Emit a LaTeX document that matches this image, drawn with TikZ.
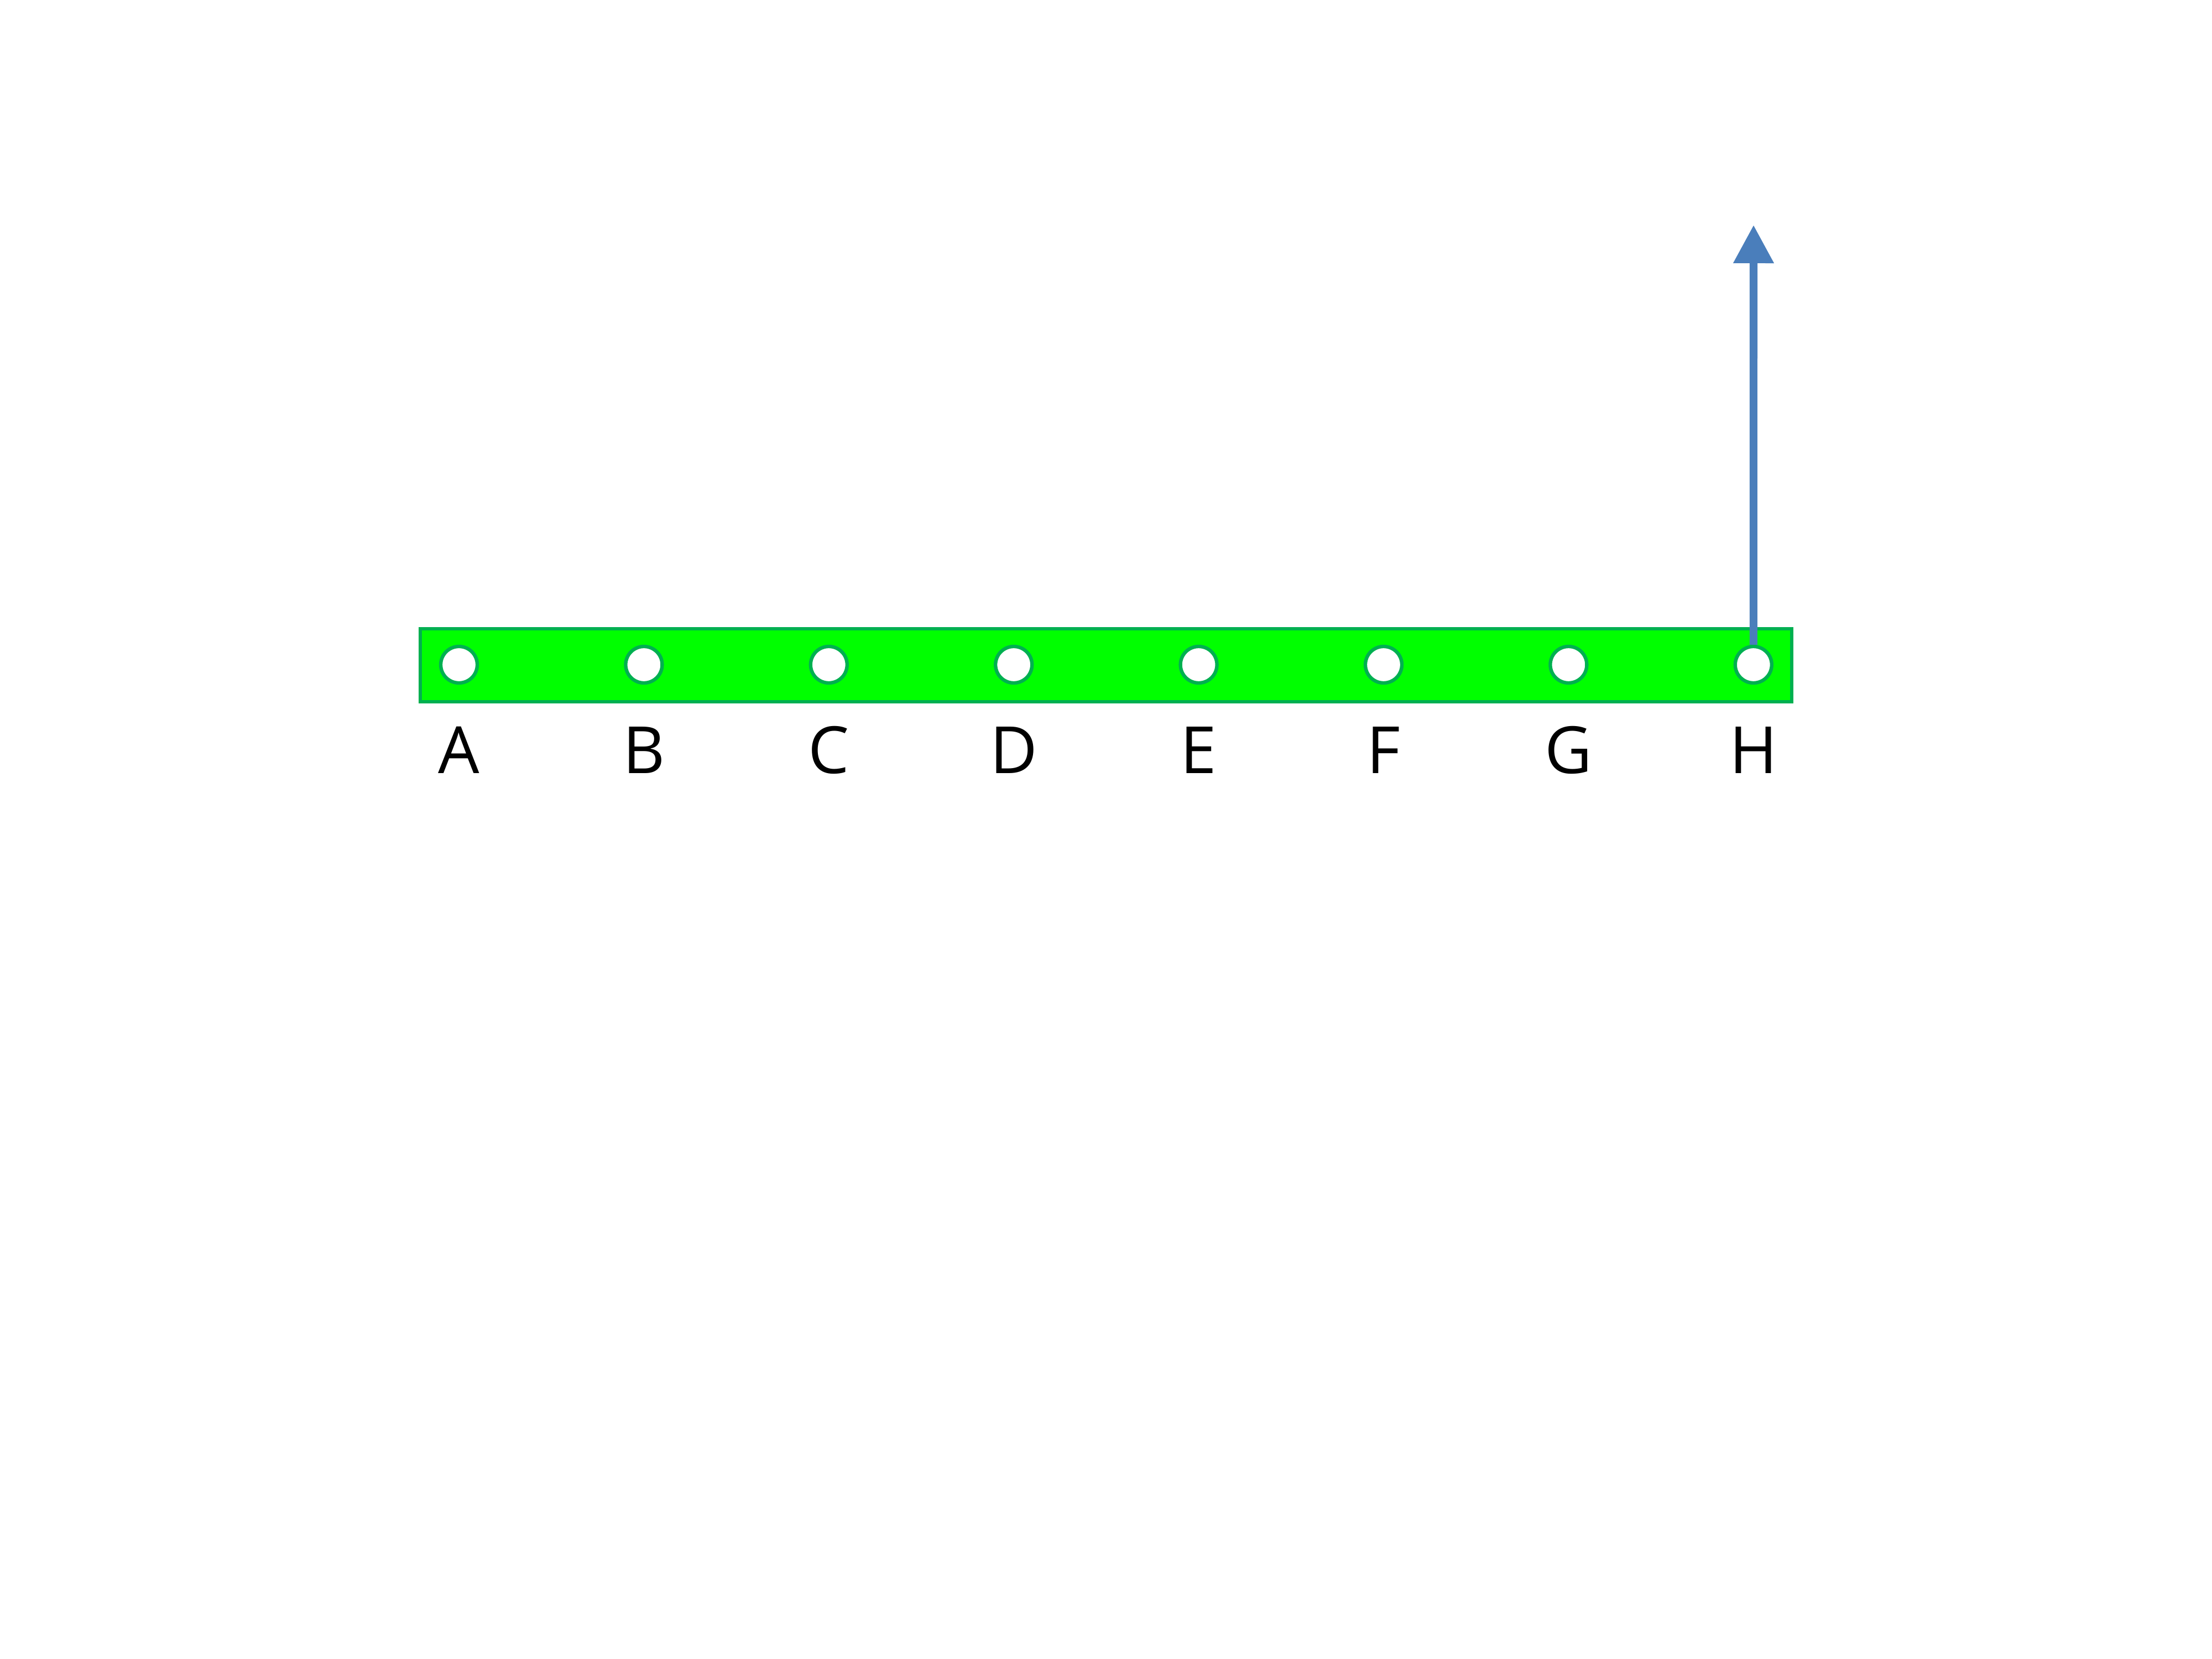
\documentclass[tikz,border=0pt]{standalone}
\usepackage{fontspec}
\setmainfont{Open Sans}
\usetikzlibrary{arrows.meta}
\definecolor{barfill}{HTML}{00FF00}
\definecolor{barline}{HTML}{00B050}
\definecolor{arrowblue}{HTML}{4A7EBB}

\begin{document}
\begin{tikzpicture}[
		hole/.style={circle,draw=barline,line width=1.8pt,fill=white,minimum size=0.66cm,inner sep=0pt},
		letter/.style={anchor=base,font=\fontsize{33.5}{40}\selectfont}]
		\useasboundingbox (0,0) rectangle (40,-30);
		\draw[barline,fill=barfill,line width=1.9pt] (7.6,-11.37) rectangle (32.4,-12.69);
		\foreach \n [count=\i from 0] in {A,B,C,D,E,F,G,H}
		{\node[hole] (\n) at (8.3+3.344*\i,-12.02) {};
		 \node[letter] (l\n) at (8.3+3.344*\i,-13.98) {\n};}
		\coordinate (top) at (31.71,-4.07);
		\draw[arrowblue,line width=4pt,-{Triangle[length=0.69cm,width=0.7cm]}] (H.north) -- (top);
	    \end{tikzpicture}
\end{document}
